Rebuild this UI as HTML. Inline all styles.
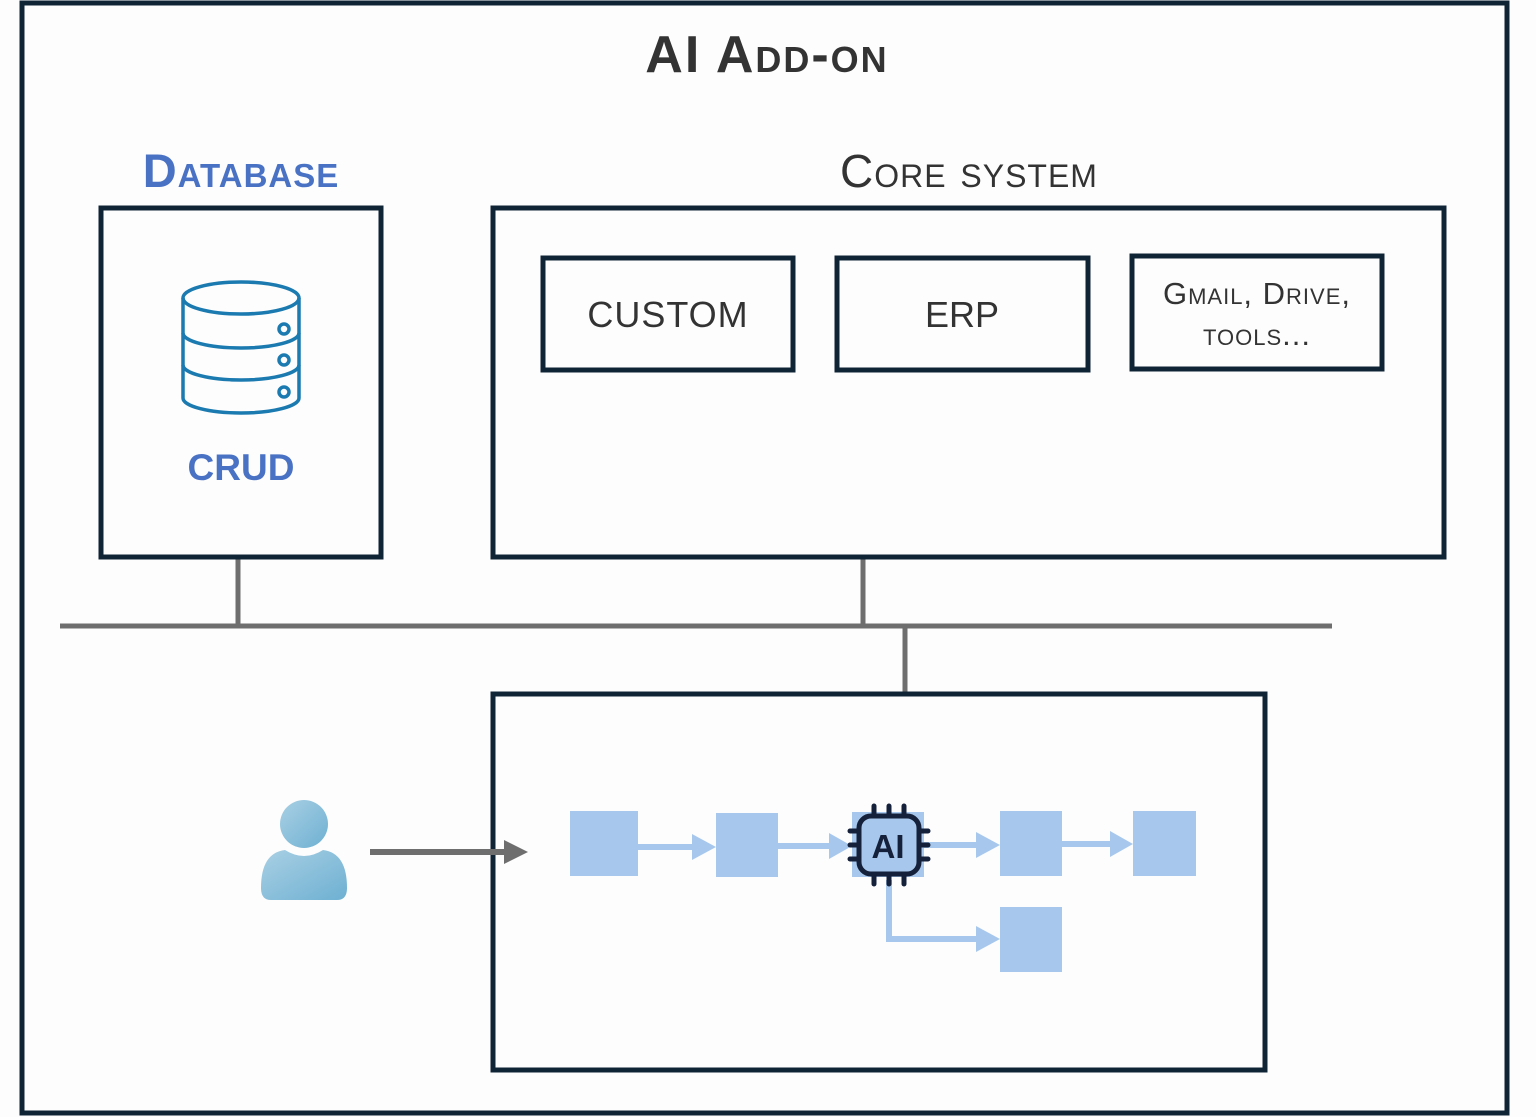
<!DOCTYPE html>
<html><head><meta charset="utf-8"><style>
html,body{margin:0;padding:0;background:#fdfdfd;}
svg{display:block}
text{font-family:"Liberation Sans",sans-serif;}
</style></head><body>
<svg width="1536" height="1117" viewBox="0 0 1536 1117" xmlns="http://www.w3.org/2000/svg">
<defs>
<linearGradient id="pg" x1="0" y1="0" x2="1" y2="1">
<stop offset="0" stop-color="#a9d0e4"/><stop offset="1" stop-color="#6eb0d2"/>
</linearGradient>
</defs>
<rect x="0" y="0" width="1536" height="1117" fill="#fdfdfd"/>
<rect x="22" y="3" width="1485" height="1110" fill="none" stroke="#0f2535" stroke-width="5"/>

<text x="767" y="72" text-anchor="middle" font-size="52" font-weight="bold" fill="#333" letter-spacing="2" style="font-variant:small-caps">AI Add-on</text>
<text x="241" y="187" text-anchor="middle" font-size="47" font-weight="bold" fill="#4a72c4" letter-spacing="1" style="font-variant:small-caps">Database</text>
<text x="969" y="187" text-anchor="middle" font-size="46" fill="#333" letter-spacing="1" style="font-variant:small-caps">Core system</text>

<g stroke="#6e6e6e" stroke-width="5" fill="none">
<line x1="60" y1="626" x2="1332" y2="626"/>
<line x1="238" y1="557" x2="238" y2="626"/>
<line x1="863" y1="557" x2="863" y2="626"/>
<line x1="905" y1="626" x2="905" y2="693"/>
</g>

<g fill="none" stroke="#0f2535" stroke-width="5">
<rect x="101" y="208" width="280" height="349"/>
<rect x="493" y="208" width="951" height="349"/>
<rect x="543" y="258" width="250" height="112"/>
<rect x="837" y="258" width="251" height="112"/>
<rect x="1132" y="256" width="250" height="113"/>
<rect x="493" y="694" width="772" height="376"/>
</g>

<text x="668" y="327" text-anchor="middle" font-size="36" fill="#333" letter-spacing="1">CUSTOM</text>
<text x="962" y="327" text-anchor="middle" font-size="36" fill="#333">ERP</text>
<text x="1257" y="304" text-anchor="middle" font-size="31" fill="#333" letter-spacing="1" style="font-variant:small-caps">Gmail, Drive,</text>
<text x="1257" y="345" text-anchor="middle" font-size="31" fill="#333" letter-spacing="1" style="font-variant:small-caps">tools...</text>

<g fill="none" stroke="#1b7ab0" stroke-width="3.5">
<path d="M183 298 L183 398 A58 15 0 0 0 299 398 L299 298"/>
<ellipse cx="241" cy="298" rx="58" ry="16"/>
<path d="M183 333 A58 15 0 0 0 299 333"/>
<path d="M183 365 A58 15 0 0 0 299 365"/>
<circle cx="284" cy="329" r="5"/>
<circle cx="284" cy="360" r="5"/>
<circle cx="284" cy="392" r="5"/>
</g>
<text x="241" y="480" text-anchor="middle" font-size="37" font-weight="bold" fill="#4a72c4">CRUD</text>

<circle cx="304" cy="824" r="24" fill="url(#pg)"/>
<path d="M261 888 Q261 853 285 850 Q304 862 323 850 Q347 853 347 888 Q347 900 337 900 L271 900 Q261 900 261 888 Z" fill="url(#pg)"/>

<g fill="#a7c8ec">
<rect x="570" y="811" width="68" height="65"/>
<rect x="716" y="813" width="62" height="64"/>
<rect x="852" y="812" width="72" height="65"/>
<rect x="1000" y="811" width="62" height="65"/>
<rect x="1133" y="811" width="63" height="65"/>
<rect x="1000" y="907" width="62" height="65"/>
</g>
<g stroke="#a7c8ec" stroke-width="6" fill="none">
<line x1="638" y1="847" x2="695" y2="847"/>
<line x1="778" y1="846" x2="832" y2="846"/>
<line x1="924" y1="845" x2="980" y2="845"/>
<line x1="1062" y1="844" x2="1113" y2="844"/>
<polyline points="889,880 889,939 980,939"/>
</g>
<g fill="#a7c8ec">
<polygon points="692,834 716,847 692,860"/>
<polygon points="829,833 852,846 829,859"/>
<polygon points="976,832 1000,845 976,858"/>
<polygon points="1110,831 1133,844 1110,857"/>
<polygon points="976,926 1000,939 976,952"/>
</g>
<g stroke="#15203a" stroke-width="5" fill="none" stroke-linecap="round">
<rect x="859" y="816" width="60" height="58" rx="12" fill="#a7c8ec"/>
<line x1="874" y1="806" x2="874" y2="816"/><line x1="889" y1="806" x2="889" y2="816"/><line x1="904" y1="806" x2="904" y2="816"/>
<line x1="874" y1="874" x2="874" y2="884"/><line x1="889" y1="874" x2="889" y2="884"/><line x1="904" y1="874" x2="904" y2="884"/>
<line x1="850" y1="831" x2="859" y2="831"/><line x1="850" y1="845" x2="859" y2="845"/><line x1="850" y1="859" x2="859" y2="859"/>
<line x1="919" y1="831" x2="928" y2="831"/><line x1="919" y1="845" x2="928" y2="845"/><line x1="919" y1="859" x2="928" y2="859"/>
</g>
<text x="888" y="858" text-anchor="middle" font-size="33" font-weight="bold" fill="#15203a">AI</text>

<line x1="370" y1="852" x2="508" y2="852" stroke="#6e6e6e" stroke-width="6"/>
<polygon points="504,840 528,852 504,864" fill="#6e6e6e"/>
</svg>
</body></html>
